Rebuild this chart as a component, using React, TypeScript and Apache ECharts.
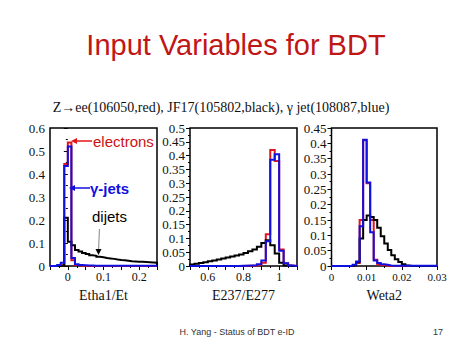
import React, { useEffect, useRef } from "react";
import * as echarts from "echarts";

// ---------- Data ----------
// Panel 1: Etha1/Et, 30 bins of 0.01 starting at -0.05
const p1Start = -0.05;
const p1Bin = 0.01;
const p1Red = [0, 0, 0.001, 0.004, 0.444, 0.537, 0.025, 0.004, 0.001, 0, 0, 0, 0, 0, 0, 0, 0, 0, 0, 0, 0, 0, 0, 0, 0, 0, 0, 0, 0, 0];
const p1Black = [0, 0, 0, 0.003, 0.21, 0.105, 0.09, 0.07, 0.063, 0.057, 0.052, 0.047, 0.044, 0.04, 0.038, 0.035, 0.033, 0.031, 0.028, 0.026, 0.025, 0.023, 0.021, 0.02, 0.019, 0.018, 0.017, 0.016, 0.015, 0.014];
const p1Blue = [0, 0, 0.004, 0.014, 0.435, 0.52, 0.035, 0.008, 0.004, 0.003, 0.002, 0.002, 0.001, 0.001, 0.001, 0.001, 0.001, 0.001, 0.001, 0.001, 0.001, 0.001, 0.001, 0.001, 0.001, 0.001, 0.001, 0.001, 0.001, 0.001];

// Panel 2: E237/E277, 24 bins of 0.025 starting at 0.5
const p2Start = 0.5;
const p2Bin = 0.025;
const p2Black = [0.005, 0.008, 0.011, 0.014, 0.017, 0.02, 0.024, 0.027, 0.031, 0.034, 0.038, 0.042, 0.047, 0.053, 0.06, 0.07, 0.083, 0.093, 0.075, 0.045, 0.012, 0.002, 0, 0];
const p2Red = [0, 0, 0, 0, 0, 0, 0, 0, 0, 0, 0, 0, 0.001, 0.001, 0.002, 0.004, 0.012, 0.115, 0.42, 0.38, 0.06, 0.01, 0.002, 0];
const p2Blue = [0, 0, 0, 0, 0, 0, 0, 0, 0, 0, 0, 0.001, 0.001, 0.002, 0.003, 0.006, 0.02, 0.09, 0.385, 0.405, 0.055, 0.01, 0.002, 0];

// Panel 3: Weta2, 30 bins of 0.001 starting at 0
const p3Start = 0;
const p3Bin = 0.001;
const p3Black = [0, 0, 0, 0, 0, 0, 0.002, 0.012, 0.09, 0.15, 0.165, 0.16, 0.15, 0.125, 0.097, 0.073, 0.052, 0.035, 0.022, 0.013, 0.006, 0.002, 0, 0, 0, 0, 0, 0, 0, 0];
const p3Red = [0, 0, 0, 0, 0, 0, 0.002, 0.01, 0.15, 0.41, 0.27, 0.15, 0.02, 0.006, 0.003, 0.001, 0, 0, 0, 0, 0, 0, 0, 0, 0, 0, 0, 0, 0, 0];
const p3Blue = [0, 0, 0, 0, 0, 0.001, 0.004, 0.015, 0.13, 0.412, 0.272, 0.11, 0.018, 0.01, 0.006, 0.004, 0.002, 0.001, 0.001, 0.001, 0.001, 0.001, 0.001, 0.001, 0.001, 0.001, 0.001, 0.001, 0.001, 0.001];

const titleText = "Input Variables for BDT";
const subtitleText = "Z\u2192ee(106050,red), JF17(105802,black), \u03b3 jet(108087,blue)";
const footerText = "H. Yang - Status of BDT e-ID";
const pageNumber = "17";
const axisNames = ["Etha1/Et", "E237/E277", "Weta2"];

// ---------- helpers ----------
function stepPoints(start: number, bin: number, vals: number[]) {
  const pts: number[][] = [[start, 0]];
  vals.forEach((v, k) => pts.push([start + k * bin, v]));
  pts.push([start + vals.length * bin, 0]);
  return pts;
}

const RED = "#e3141b";
const BLUE = "#1010e0";
const BLACK = "#000000";
const SERIF = "Liberation Serif";
const SANS = "Liberation Sans";

function fmt(v: number) {
  return String(Number(v.toFixed(4)));
}

export default function App() {
  const ref = useRef<HTMLDivElement>(null);
  useEffect(() => {
    if (!ref.current) return;
    const chart = echarts.init(ref.current, undefined, { renderer: "svg" });

    const grids = [
      { left: 50, top: 128, width: 107, height: 138 },
      { left: 190, top: 128, width: 107, height: 138 },
      { left: 331.5, top: 128, width: 105.5, height: 138 },
    ].map((g) => ({ ...g, show: true, borderColor: "#000", borderWidth: 1.5, backgroundColor: "#fff" }));

    const xCfg = [
      { min: -0.05, max: 0.25, interval: 0.05, labelStep: 0.1, fs: 12 },
      { min: 0.5, max: 1.1, interval: 0.1, labelStep: 0.2, fs: 12 },
      { min: 0, max: 0.03, interval: 0.01, labelStep: 0.01, fs: 11 },
    ];
    const yCfg = [
      { max: 0.6, interval: 0.1 },
      { max: 0.5, interval: 0.05 },
      { max: 0.45, interval: 0.05 },
    ];

    const xAxis = xCfg.map((c, i) => ({
      type: "value",
      gridIndex: i,
      min: c.min,
      max: c.max,
      interval: c.interval,
      name: axisNames[i],
      nameLocation: "middle",
      nameGap: 22,
      nameTextStyle: { fontFamily: SERIF, fontSize: 14, color: "#111" },
      axisLine: { show: false },
      axisTick: { show: true, inside: false, length: 4, lineStyle: { color: "#000", width: 1 } },
      minorTick: { show: true, splitNumber: 2, length: 2, lineStyle: { color: "#000" } },
      splitLine: { show: false },
      axisLabel: {
        margin: 5,
        fontFamily: SERIF,
        fontSize: c.fs,
        color: "#111",
        showMinLabel: true,
        showMaxLabel: true,
        formatter: (v: number) => {
          const r = v / c.labelStep;
          return Math.abs(r - Math.round(r)) < 1e-6 ? fmt(v) : "";
        },
      },
    }));

    const yAxis = yCfg.map((c, i) => ({
      type: "value",
      gridIndex: i,
      min: 0,
      max: c.max,
      interval: c.interval,
      axisLine: { show: false },
      axisTick: { show: true, inside: false, length: 4, lineStyle: { color: "#000", width: 1 } },
      minorTick: { show: true, splitNumber: 2, length: 2, lineStyle: { color: "#000" } },
      splitLine: { show: false },
      axisLabel: { margin: 5, fontFamily: SERIF, fontSize: 13, color: "#111", formatter: (v: number) => fmt(v) },
    }));

    const panels = [
      { start: p1Start, bin: p1Bin, black: p1Black, red: p1Red, blue: p1Blue },
      { start: p2Start, bin: p2Bin, black: p2Black, red: p2Red, blue: p2Blue },
      { start: p3Start, bin: p3Bin, black: p3Black, red: p3Red, blue: p3Blue },
    ];
    const series: any[] = [];
    panels.forEach((p, i) => {
      (
        [
          ["red", p.red, RED],
          ["black", p.black, BLACK],
          ["blue", p.blue, BLUE],
        ] as [string, number[], string][]
      ).forEach(([nm, vals, col]) => {
        series.push({
          type: "line",
          name: nm + i,
          xAxisIndex: i,
          yAxisIndex: i,
          step: "end",
          showSymbol: false,
          symbol: "none",
          data: stepPoints(p.start, p.bin, vals),
          lineStyle: { color: col, width: 2, cap: "butt", join: "miter" },
          z: 3,
        });
      });
    });

    const arrowHead = (x: number, y: number, dir: "left" | "down", color: string) => {
      const pts =
        dir === "left"
          ? [[x, y], [x + 6, y - 3], [x + 6, y + 3]]
          : [[x, y], [x - 3, y - 6], [x + 3, y - 6]];
      return { type: "polygon", shape: { points: pts }, style: { fill: color }, z: 10 };
    };

    const graphic: any[] = [
      {
        type: "text",
        style: { text: titleText, x: 236, y: 45, textAlign: "center", textVerticalAlign: "middle", fontFamily: SANS, fontSize: 29, fill: "#bf1616" },
      },
      {
        type: "text",
        style: { text: subtitleText, x: 221, y: 107, textAlign: "center", textVerticalAlign: "middle", fontFamily: SERIF, fontSize: 14, fill: "#111" },
      },
      {
        type: "text",
        style: { text: footerText, x: 237, y: 332, textAlign: "center", textVerticalAlign: "middle", fontFamily: SANS, fontSize: 9, fill: "#333" },
      },
      {
        type: "text",
        style: { text: pageNumber, x: 438, y: 332, textAlign: "center", textVerticalAlign: "middle", fontFamily: SANS, fontSize: 9, fill: "#333" },
      },
      // electrons
      { type: "line", shape: { x1: 76, y1: 141, x2: 92, y2: 141 }, style: { stroke: RED, lineWidth: 1.5 }, z: 10 },
      arrowHead(71, 141, "left", RED),
      {
        type: "text",
        style: { text: "electrons", x: 93, y: 141, textAlign: "left", textVerticalAlign: "middle", fontFamily: SANS, fontSize: 15, fill: "#cc1111" },
        z: 10,
      },
      // gamma-jets
      { type: "line", shape: { x1: 74, y1: 188, x2: 90, y2: 188 }, style: { stroke: BLUE, lineWidth: 1.5 }, z: 10 },
      arrowHead(69, 188, "left", BLUE),
      {
        type: "text",
        style: { text: "\u03b3-jets", x: 90, y: 188, textAlign: "left", textVerticalAlign: "middle", fontFamily: SANS, fontWeight: "bold", fontSize: 15, fill: BLUE },
        z: 10,
      },
      // dijets
      {
        type: "text",
        style: { text: "dijets", x: 92, y: 216, textAlign: "left", textVerticalAlign: "middle", fontFamily: SANS, fontSize: 15, fill: "#000" },
        z: 10,
      },
      { type: "line", shape: { x1: 99.5, y1: 229, x2: 98.5, y2: 250 }, style: { stroke: "#999", lineWidth: 1.2 }, z: 10 },
      arrowHead(98.5, 255, "down", "#000"),
    ];

    chart.setOption({
      animation: false,
      backgroundColor: "#fff",
      grid: grids,
      xAxis,
      yAxis,
      series,
      graphic,
    });
    return () => chart.dispose();
  }, []);

  return <div ref={ref} style={{ position: "absolute", left: 0, top: 0, width: 474, height: 355 }} />;
}
